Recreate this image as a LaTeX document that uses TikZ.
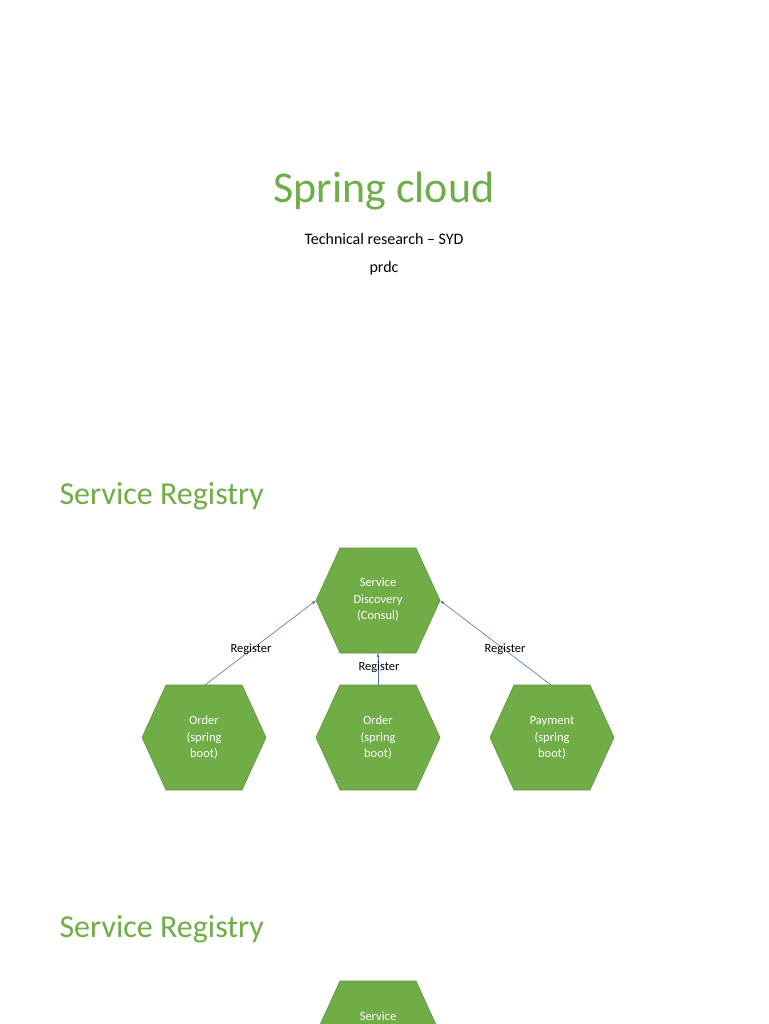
\documentclass[tikz,border=0pt]{standalone}
\usepackage{fontspec}
\setmainfont{Carlito}
\usetikzlibrary{arrows.meta}
\begin{document}
\begin{tikzpicture}[x=1pt,y=-1pt,
  hexfill/.style={fill=hexg,draw=hexg!85!black,line width=0.6pt},
  hext/.style={text=white,align=center,font=\fontsize{12.5}{16.5}\selectfont},
  lbl/.style={font=\fontsize{12.5}{15}\selectfont,text=black},
  arr/.style={draw=arrb,line width=0.6pt,-{Latex[length=4pt,width=3pt]}}]
\definecolor{hexg}{HTML}{70AD47}
\definecolor{arrb}{HTML}{4472C4}
\useasboundingbox (0,0) rectangle (768,1024);
\clip (0,0) rectangle (768,1024);
\fill[white] (0,0) rectangle (768,1024);
\newcommand{\hexagon}[3]{% name, cx, cy
  \fill[hexfill] (#2-62,#3) -- (#2-38,#3-52.5) -- (#2+38,#3-52.5) -- (#2+62,#3) -- (#2+38,#3+52.5) -- (#2-38,#3+52.5) -- cycle;
  \coordinate (#1-l) at (#2-62,#3);
  \coordinate (#1-r) at (#2+62,#3);
  \coordinate (#1-b) at (#2,#3+52.5);
}
\node[text=hexg,font=\fontsize{44}{50}\selectfont] (title) at (384,191) {Spring cloud};
\node[font=\fontsize{16}{19}\selectfont] (sub1) at (384,239) {Technical research – SYD};
\node[font=\fontsize{16}{19}\selectfont] (sub2) at (384,268) {prdc};
\node[text=hexg,font=\fontsize{32}{38}\selectfont,anchor=west] (h1) at (56,496) {Service Registry};
\node[text=hexg,font=\fontsize{32}{38}\selectfont,anchor=west] (h2) at (56,929) {Service Registry};

\hexagon{sd}{378}{600.5}
\hexagon{o1}{204}{737.5}
\hexagon{o2}{378}{737.5}
\hexagon{pay}{552}{737.5}
\hexagon{sd2}{378}{1033.5}
\node[hext] (sdt) at (378,600) {Service\\Discovery\\(Consul)};
\node[hext] (o1t) at (204,738) {Order\\(spring\\boot)};
\node[hext] (o2t) at (378,738) {Order\\(spring\\boot)};
\node[hext] (payt) at (552,738) {Payment\\(spring\\boot)};
\node[hext] (sd2t) at (378,1016) {Service};

\coordinate (o1top) at (205,685);
\coordinate (o2top) at (378,685);
\coordinate (paytop) at (551,685);
\draw[arr] (o1top) -- (sd-l);
\draw[arr] (o2top) -- (sd-b);
\draw[arr] (paytop) -- (sd-r);
\node[lbl] (r1) at (251,649) {Register};
\node[lbl] (r2) at (379,667) {Register};
\node[lbl] (r3) at (505,649) {Register};
\end{tikzpicture}
\end{document}
